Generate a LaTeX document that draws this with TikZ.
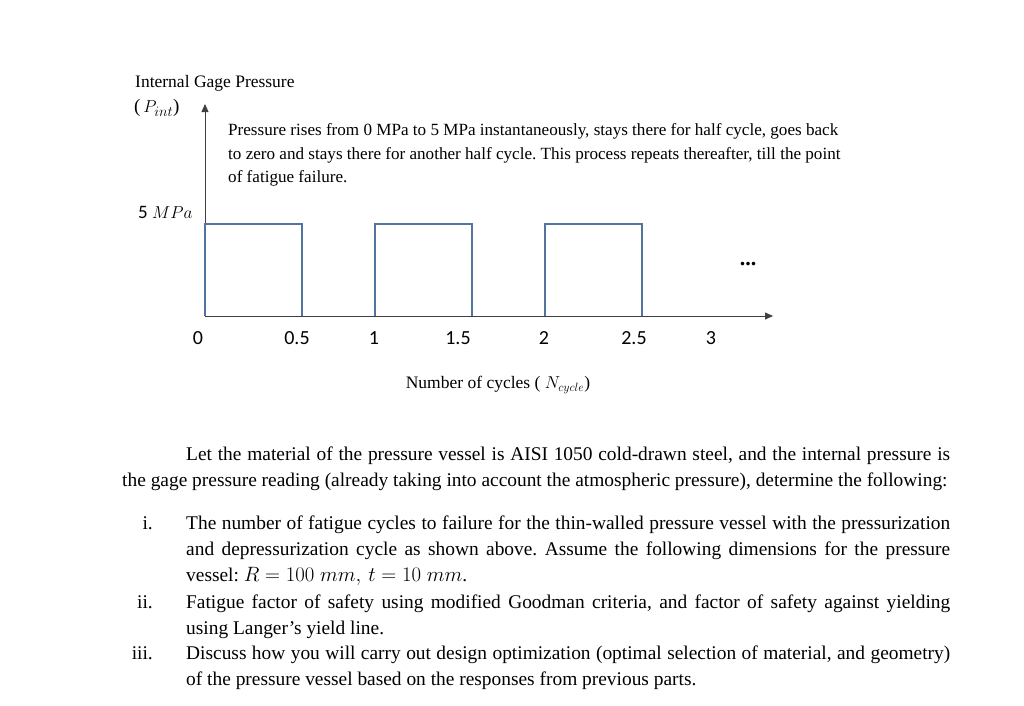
\documentclass[tikz,border=0pt]{standalone}
\usepackage{fontspec}
\setmainfont{Liberation Serif}
\newfontfamily\carlfont{Carlito}
\usetikzlibrary{arrows.meta}
\definecolor{sq}{RGB}{84,116,160}
\frenchspacing
\begin{document}
\begin{tikzpicture}[x=1pt,y=-1pt,
  tl/.style={inner sep=0pt,font=\carlfont\fontsize{20}{22}\selectfont},
  pl/.style={inner sep=0pt,anchor=west,font=\fontsize{17.1}{20}\selectfont},
  bl/.style={inner sep=0pt,anchor=north west,font=\fontsize{19.4}{25.6}\selectfont},
  ax/.style={line width=0.8pt,-{Triangle[length=8pt,width=7pt]}}]
\useasboundingbox[fill=white] (0,0) rectangle (1024,705);
\coordinate (o) at (205,316);
\coordinate (ytop) at (205,104);
\coordinate (xend) at (773,316);
\draw[ax,color=black!75] (o) -- (xend);
\draw[ax,color=black!75] (o) -- (ytop);
\foreach \a/\b in {205/302,375/472,545/642}
  \draw[sq,line width=1.3pt] (\a,316) -- (\a,224) -- (\b,224) -- (\b,316);
\node[pl,font=\fontsize{17.5}{20}\selectfont] (t1) at (135,83) {Internal Gage Pressure};
\node[pl,font=\fontsize{19}{20}\selectfont] (t2) at (134,108) {($\,P_{int}$)};
\node[tl,anchor=west,font=\carlfont\fontsize{19}{20}\selectfont] (t3) at (138,212) {5 $MPa$};
\node[pl] (p1) at (228,131) {Pressure rises from 0 MPa to 5 MPa instantaneously, stays there for half cycle, goes back};
\node[pl] (p2) at (228,155) {to zero and stays there for another half cycle. This process repeats thereafter, till the point};
\node[pl] (p3) at (228,178) {of fatigue failure.};
\foreach \x/\l in {198/0,297/0.5,374/1,458/1.5,544/2,634/2.5,711/3}
  \node[tl] (n\l) at (\x,338) {\l};
\node[font=\bfseries\fontsize{22}{22}\selectfont,inner sep=0pt] (dots) at (748,264) {...};
\node[pl,anchor=center,font=\fontsize{17.5}{20}\selectfont] (xl) at (498,385) {Number of cycles ( $N_{cycle}$)};
\node[bl] (q) at (122,447)
 {\parbox{828pt}{\hyphenpenalty=10000\hspace*{64pt}Let the material of the pressure vessel is AISI 1050 cold-drawn steel, and the internal pressure is \linebreak the gage pressure reading (already taking into account the atmospheric pressure), determine the following:}};
\node[bl] (li) at (186,516)
 {\parbox{764pt}{\hyphenpenalty=10000 The number of fatigue cycles to failure for the thin-walled pressure vessel with the pressurization \linebreak and depressurization cycle as shown above. Assume the following dimensions for the pressure \linebreak vessel: $R=100\;mm,\, t=10\;mm$.}};
\node[bl] (lii) at (186,595)
 {\parbox{764pt}{\hyphenpenalty=10000 Fatigue factor of safety using modified Goodman criteria, and factor of safety against yielding \linebreak using Langer’s yield line.}};
\node[bl] (liii) at (186,646)
 {\parbox{764pt}{\hyphenpenalty=10000 Discuss how you will carry out design optimization (optimal selection of material, and geometry) \linebreak of the pressure vessel based on the responses from previous parts.}};
\node[bl,anchor=north east] (ni) at (153,516) {i.};
\node[bl,anchor=north east] (nii) at (153,595) {ii.};
\node[bl,anchor=north east] (niii) at (153,646) {iii.};
\end{tikzpicture}
\end{document}
